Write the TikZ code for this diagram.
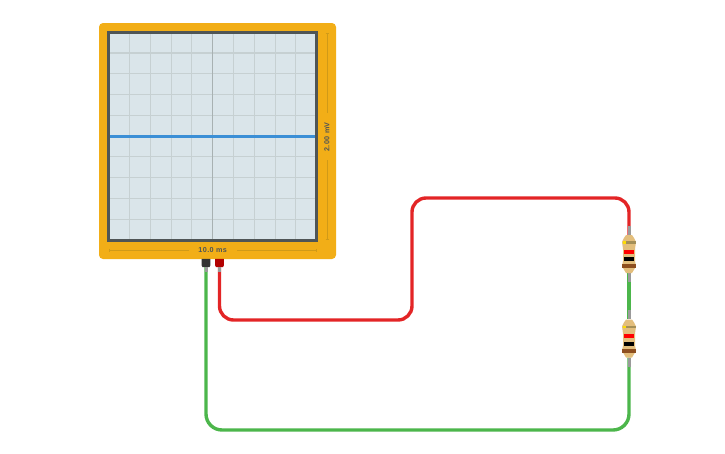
\documentclass[tikz,border=0pt]{standalone}
\usepackage{fontspec}
\setmainfont{Liberation Sans}
\newfontfamily\scopefont[LetterSpace=6]{Liberation Sans}
\usetikzlibrary{positioning}
\definecolor{bodyor}{HTML}{F2AE17}
\definecolor{rulerc}{HTML}{D09A18}
\definecolor{screenc}{HTML}{DAE5EA}
\definecolor{framec}{HTML}{4F5556}
\definecolor{gridc}{HTML}{C6D0D2}
\definecolor{tracec}{HTML}{3B8FD6}
\definecolor{redw}{HTML}{E32526}
\definecolor{greenw}{HTML}{4CB64B}
\definecolor{leadc}{HTML}{9A9A9A}
\definecolor{tanc}{HTML}{E3BE7C}
\definecolor{brownb}{HTML}{8E4F1F}
\definecolor{goldb}{HTML}{A48F58}
\tikzset{
  scopetext/.style={font=\scopefont\fontsize{7.2}{8}\selectfont\bfseries,text=framec,inner sep=0pt},
  ruler/.style={draw=rulerc,line width=.7pt},
  redwire/.style={draw=redw,line width=3.4pt,rounded corners=14pt},
  greenwire/.style={draw=greenw,line width=3.4pt,rounded corners=16pt},
  probe/.style={minimum width=8.5pt,minimum height=8pt,inner sep=0pt},
  lead/.style={draw=leadc,line width=3pt},
  band/.style={fill=#1},
  resnode/.style={minimum width=14pt,minimum height=38pt,inner sep=0pt},
  pics/resistor/.style={code={
    \path[fill=tanc] (-3,-19) -- (3,-19)
      .. controls (4,-16) and (7,-15) .. (7,-12) .. controls (7,-9) and (6,-8) .. (6,-5)
      -- (6,7) .. controls (6,9) and (7,10) .. (7,12) .. controls (7,14) and (4,16) .. (3,19)
      -- (-3,19) .. controls (-4,16) and (-7,14) .. (-7,12) .. controls (-7,10) and (-6,9) .. (-6,7)
      -- (-6,-5) .. controls (-6,-8) and (-7,-9) .. (-7,-12) .. controls (-7,-15) and (-4,-16) .. (-3,-19) -- cycle;
    \fill[band=goldb] (-6.5,-13) rectangle (6.5,-10.5);
    \fill[band=yellow!80!orange] (-6.5,-13) rectangle (-3,-10.5);
    \fill[band=red] (-5,-4.5) rectangle (5,-0.5);
    \fill[band=black] (-5,3) rectangle (5,7);
    \fill[band=brownb] (-7,10) rectangle (7,14);
  }},
}
\begin{document}
\begin{tikzpicture}[x=1pt,y=-1pt]
  \useasboundingbox (0,0) rectangle (725,453);
  % oscilloscope
  \fill[bodyor,rounded corners=4pt] (99,23) rectangle (336,259);
  \fill[screenc] (108.7,32.2) rectangle (316.7,240);
  \foreach \i in {1,...,9}{
    \draw[gridc,line width=1.1pt] (108.7+\i*20.8,32.2) -- (108.7+\i*20.8,240);
  }
  \foreach \i in {-5,...,4}{
    \draw[gridc,line width=1.1pt] (108.7,136.1+\i*20.78) -- (316.7,136.1+\i*20.78);
  }
  \draw[gridc!85!black,line width=1.4pt] (212.7,32.2) -- (212.7,240);
  \draw[tracec,line width=3.2pt] (108.7,136.1) -- (316.7,136.1);
  \draw[framec,line width=3pt] (108.7,32.2) rectangle (316.7,240);
  % axis labels
  \node[scopetext] (timelabel) at (212.7,250) {10.0 ms};
  \node[scopetext,rotate=90] (voltlabel) at (327,137) {2.00 mV};
  \draw[ruler] (189,250) -- (109,250);
  \draw[ruler] (237,250) -- (316,250);
  \draw[ruler] (109,248.5) -- (109,251.5);
  \draw[ruler] (316,248.5) -- (316,251.5);
  \draw[ruler] (327,113) -- (327,33);
  \draw[ruler] (327,160) -- (327,239);
  \draw[ruler] (325.5,33) -- (328.5,33);
  \draw[ruler] (325.5,239) -- (328.5,239);
  % probes
  \node[probe] (blackprobe) at (206,263) {};
  \node[probe] (redprobe) at (219.5,263) {};
  \foreach \p/\c in {blackprobe/black!80,redprobe/red!70!black}{
    \fill[\c] (\p.north west) -- (\p.north east) -- ([yshift=2pt]\p.south east) -- ([xshift=-1pt]\p.south east) -- ([xshift=1pt]\p.south west) -- ([yshift=2pt]\p.south west) -- cycle;
  }
  % resistors
  \node[resnode] (rone) at (629,254) {};
  \node[resnode] (rtwo) at (629,338.5) {};
  \coordinate (redbend) at (219.5,320);
  \coordinate (redmid) at (412,320);
  \coordinate (redtop) at (412,198);
  \coordinate (rtopcorner) at (629,198);
  \coordinate (greenlow) at (206,430);
  \coordinate (greenright) at (629,430);
  % wires
  \draw[greenwire] (blackprobe.south) -- (greenlow) -- (greenright) -- (rtwo.south);
  \draw[redwire] (redprobe.south) -- (redbend) -- (redmid) -- (redtop) -- (rtopcorner) -- (rone.north);
  \draw[greenw,line width=3.4pt] (rone.south) -- (rtwo.north);
  % leads
  \draw[lead] (blackprobe.south) -- ++(0,5);
  \draw[lead] (redprobe.south) -- ++(0,5);
  \draw[lead] (rone.north) -- ++(0,-9);
  \draw[lead] (rone.south) -- ++(0,9);
  \draw[lead] (rtwo.north) -- ++(0,-9);
  \draw[lead] (rtwo.south) -- ++(0,9);
  \pic at (rone.center) {resistor};
  \pic at (rtwo.center) {resistor};
\end{tikzpicture}
\end{document}
